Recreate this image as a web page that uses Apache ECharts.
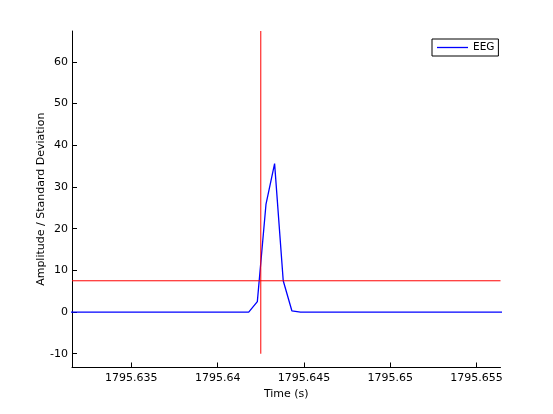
<!DOCTYPE html>
<html>
<head>
<meta charset="utf-8">
<script src="https://cdn.jsdelivr.net/npm/echarts@6/dist/echarts.min.js"></script>
<style>html,body{margin:0;padding:0;background:#fff}#c{width:553px;height:414px}</style>
</head>
<body>
<div id="c"></div>
<script>
// EEG samples (time in s, amplitude / SD)
const eegTime = [1795.6315, 1795.6400, 1795.6418, 1795.6423, 1795.6428, 1795.6433, 1795.6438, 1795.6443, 1795.6448, 1795.6500, 1795.6565];
const eegValue = [0, 0, 0, 2.5, 25.8, 35.6, 7.5, 0.3, 0, 0, 0];
// threshold and event marker
const thresholdValue = 7.5;
const eventTime = 1795.6425;
const eventLineRange = [-10, 67.4];
// axis ranges and ticks
const xRange = [1795.63156, 1795.65639];
const yRange = [-13.3, 67.4];
const xTicks = [1795.635, 1795.64, 1795.645, 1795.65, 1795.655];
const yTicks = [-10, 0, 10, 20, 30, 40, 50, 60];

const eegData = eegTime.map((t, i) => [t, eegValue[i]]);
const thrData = [[xRange[0], thresholdValue], [xRange[1], thresholdValue]];
const evtData = [[eventTime, eventLineRange[0]], [eventTime, eventLineRange[1]]];

const font = 'DejaVu Sans';
const chart = echarts.init(document.getElementById('c'), null, {renderer: 'canvas'});
chart.setOption({
  animation: false,
  backgroundColor: '#fff',
  textStyle: {fontFamily: font},
  grid: {left: 72, right: 52.5, top: 31, bottom: 46.5, containLabel: false},
  legend: {
    show: true,
    data: ['EEG'],
    left: 432, top: 39,
    orient: 'vertical',
    borderColor: '#000', borderWidth: 1, borderRadius: 0,
    padding: [3, 4, 3, 5],
    icon: 'rect', itemWidth: 31, itemHeight: 1.3, itemGap: 0,
    textStyle: {fontFamily: font, fontSize: 10.5, color: '#000'}
  },
  xAxis: {
    type: 'value', min: xRange[0], max: xRange[1],
    name: 'Time (s)', nameLocation: 'middle', nameGap: 21, nameMoveOverlap: false,
    nameTextStyle: {fontFamily: font, fontSize: 11, color: '#000'},
    axisLine: {show: true, onZero: false, lineStyle: {color: '#000', width: 1}},
    axisTick: {show: true, inside: true, length: 5, customValues: xTicks, lineStyle: {color: '#000'}},
    axisLabel: {show: true, customValues: xTicks, margin: 5, fontSize: 11, color: '#000', fontFamily: font,
      formatter: v => String(+(+v).toFixed(3))},
    splitLine: {show: false}
  },
  yAxis: {
    type: 'value', min: yRange[0], max: yRange[1],
    name: 'Amplitude / Standard Deviation', nameLocation: 'middle', nameGap: 25, nameMoveOverlap: false,
    nameTextStyle: {fontFamily: font, fontSize: 11, color: '#000'},
    axisLine: {show: true, onZero: false, lineStyle: {color: '#000', width: 1}},
    axisTick: {show: true, inside: true, length: 5, customValues: yTicks, lineStyle: {color: '#000'}},
    axisLabel: {show: true, customValues: yTicks, margin: 4, fontSize: 11, color: '#000', fontFamily: font},
    splitLine: {show: false}
  },
  series: [
    {name: 'EEG', type: 'line', data: eegData, showSymbol: false, symbol: 'none',
      lineStyle: {color: '#0000ff', width: 1.3}, itemStyle: {color: '#0000ff'}, z: 2},
    {name: 'threshold', type: 'line', data: thrData, showSymbol: false, symbol: 'none',
      lineStyle: {color: '#ff0000', width: 1}, z: 3},
    {name: 'event', type: 'line', data: evtData, showSymbol: false, symbol: 'none',
      lineStyle: {color: '#ff0000', width: 1}, z: 3}
  ]
});
</script>
</body>
</html>
